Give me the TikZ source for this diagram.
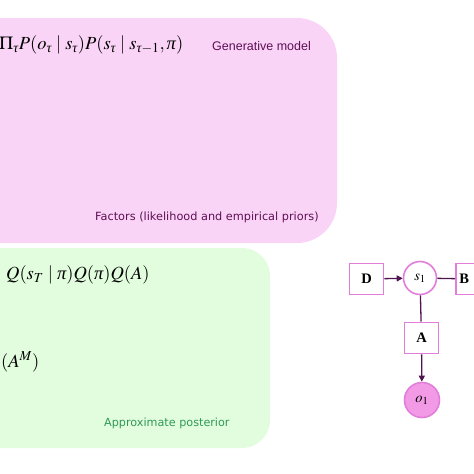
\documentclass[tikz,border=0pt]{standalone}
\usepackage{amsmath}
\usepackage{mathptmx}
\usepackage[no-math]{fontspec}
\setmainfont{Liberation Serif}
\newfontfamily\arialf{Liberation Sans}
\newfontfamily\dejaf{DejaVu Sans}
\newcommand\mytau{\text{\itshape τ}}
\newcommand\mypi{\text{\itshape π}}
\usetikzlibrary{arrows.meta}
\definecolor{pinkbg}{HTML}{FAD4F6}
\definecolor{greenbg}{HTML}{E2FCDE}
\definecolor{pinkline}{HTML}{E27EDA}
\definecolor{obsfill}{HTML}{F39AE6}
\definecolor{edgec}{HTML}{4E1450}
\definecolor{purtext}{HTML}{5E0F55}
\definecolor{greentext}{HTML}{2F9A55}
\tikzset{
  factor/.style={draw=pinkline, line width=1.6pt, fill=white, minimum width=34pt, minimum height=31pt, inner sep=0pt, font=\fontsize{14.5}{16}\selectfont\bfseries},
  varnode/.style={circle, draw=pinkline, line width=1.6pt, fill=white, minimum size=33pt, inner sep=0pt, font=\fontsize{14.5}{16}\selectfont},
  obsnode/.style={circle, draw=pinkline, line width=1.6pt, fill=obsfill, minimum size=35pt, inner sep=0pt, font=\fontsize{14.5}{16}\selectfont},
  edge/.style={draw=edgec, line width=1.3pt},
  arr/.style={edge, -{Triangle[length=6pt,width=6pt]}},
  formula/.style={anchor=west, inner sep=0pt, font=\fontsize{18.5}{21}\selectfont},
}
\begin{document}
\begin{tikzpicture}[x=1pt,y=-1pt]
\useasboundingbox (0,0) rectangle (474,474);
\clip (0,0) rectangle (474,474);
\fill[pinkbg, rounded corners=40pt] (-60,18) rectangle (337,243);
\fill[greenbg, rounded corners=28pt] (-60,248) rectangle (270,448);
\node[formula] (f1) at (-1,45) {$\Pi_\mytau P(o_\mytau \;|\; s_\mytau)P(s_\mytau \;|\; s_{\mytau-1},\mypi)$};
\node[anchor=west, inner sep=0pt, text=purtext, font=\arialf\fontsize{12.5}{14}\selectfont] (gm) at (212,46) {Generative model};
\node[anchor=west, inner sep=0pt, text=purtext, font=\dejaf\fontsize{11.3}{14}\selectfont] (fac) at (95,217) {Factors (likelihood and empirical priors)};
\node[formula] (q1) at (6,275) {$Q(s_T \;|\; \mypi)Q(\mypi)Q(A)$};
\node[formula] (q2) at (1,362) {$(A^M)$};
\node[anchor=west, inner sep=0pt, text=greentext, font=\dejaf\fontsize{11.2}{14}\selectfont] (ap) at (104,423) {Approximate posterior};
\node[factor] (D) at (366.5,279) {D};
\node[varnode] (s1) at (420,278) {$s_1$};
\node[factor, anchor=west, text width=27pt, align=left, inner xsep=3.5pt] (B) at (455,279) {B};
\node[factor] (A) at (421.5,338) {A};
\node[obsnode] (o1) at (422,400) {$o_1$};
\draw[arr] (D) -- (s1);
\draw[edge] (s1) -- (B);
\draw[edge] (s1) -- (A);
\draw[arr] (A) -- (o1);
\end{tikzpicture}
\end{document}
